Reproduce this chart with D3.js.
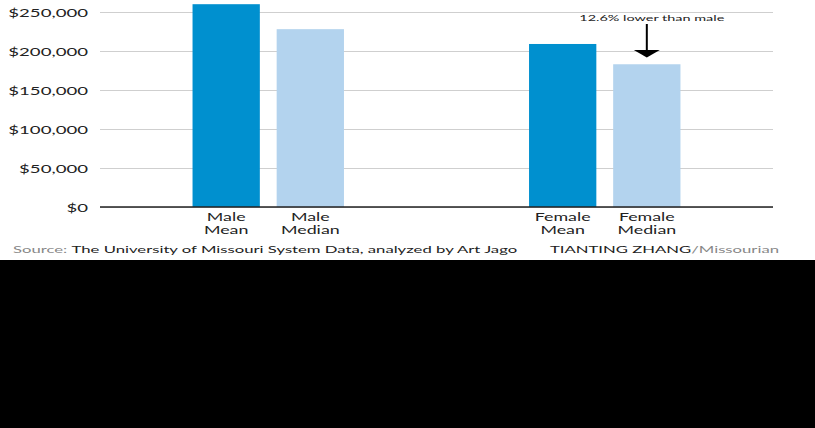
<!DOCTYPE html>
<html><head><meta charset="utf-8">
<script src="https://cdn.jsdelivr.net/npm/d3@7"></script>
<style>
html,body{margin:0;padding:0;background:#fff;}
svg{display:block;font-family:Lato,"Open Sans",sans-serif;}
</style></head>
<body>
<svg id="c" width="815" height="428"></svg>
<script>
const categories = ["Male Mean","Male Median","Female Mean","Female Median"];
const labelLines = [["Male","Mean"],["Male","Median"],["Female","Mean"],["Female","Median"]];
const values = [260000, 228000, 209000, 183000];
const kinds = ["mean","median","mean","median"];
const yTicks = [0, 50000, 100000, 150000, 200000, 250000];
const annotationText = "12.6% lower than male";
const annotationTarget = "Female Median";

(function () {
const svg = d3.select("#c");
const W = 815, H = 428, SX = 1.55;
svg.append("rect").attr("width", W).attr("height", H).attr("fill", "#fff");
svg.append("rect").attr("x", 0).attr("y", 260).attr("width", W).attr("height", H - 260).attr("fill", "#000");

function wtext(px, py, size, anchor, sx) {
  return svg.append("g").attr("transform", `translate(${px},${py}) scale(${sx || SX},1)`)
    .append("text").attr("font-size", size).attr("text-anchor", anchor || "start").attr("fill", "#222");
}

const mLeft = 100, mRight = 773, mTop = 12, base = 207;
const slots = ["s0", categories[0], categories[1], "s1", "s2", categories[2], categories[3], "s3"];
const x = d3.scaleBand().domain(slots).range([mLeft, mRight]).paddingInner(0.2).paddingOuter(0.1);
const y = d3.scaleLinear().domain([0, 250000]).range([base, mTop]);

const fmt = v => "$" + d3.format(",")(v);
const yAxis = d3.axisLeft(y).tickValues(yTicks).tickSize(-(mRight - mLeft)).tickFormat(fmt);
const gy = svg.append("g").attr("transform", `translate(${mLeft},0)`).call(yAxis);
gy.select(".domain").remove();
gy.selectAll(".tick line").attr("stroke", "#cfcfcf").attr("stroke-width", 1);
gy.selectAll(".tick text").remove();
yTicks.forEach(v => wtext(88, y(v) + 4.5, 12, "end").text(fmt(v)));

const colors = {mean: "#0090cf", median: "#b3d3ee"};
svg.append("g").selectAll("rect").data(categories).join("rect")
  .attr("x", d => x(d)).attr("width", x.bandwidth())
  .attr("y", (d, i) => y(values[i])).attr("height", (d, i) => base - y(values[i]))
  .attr("fill", (d, i) => colors[kinds[i]]);

svg.append("line").attr("x1", mLeft).attr("x2", mRight).attr("y1", base).attr("y2", base)
  .attr("stroke", "#222").attr("stroke-width", 1.5);

categories.forEach((c, i) => {
  const cx = x(c) + x.bandwidth() / 2;
  labelLines[i].forEach((ln, j) => wtext(cx, 221 + j * 12.5, 11.5, "middle").text(ln));
});

const ax = x(annotationTarget) + x.bandwidth() / 2;
wtext(ax + 5, 21, 8.5, "middle", 1.7).text(annotationText);
svg.append("line").attr("x1", ax).attr("x2", ax).attr("y1", 24).attr("y2", 51).attr("stroke", "#000").attr("stroke-width", 2);
svg.append("path").attr("d", `M${ax - 13},50 L${ax + 13},50 L${ax},57.5 Z`).attr("fill", "#000");

const f1 = wtext(13, 253, 10.3, "start", 1.62);
f1.append("tspan").attr("fill", "#888").text("Source: ");
f1.append("tspan").attr("fill", "#222").text("The University of Missouri System Data, analyzed by Art Jago");
const f2 = wtext(779, 253, 10.3, "end", 1.62);
f2.append("tspan").attr("fill", "#222").text("TIANTING ZHANG");
f2.append("tspan").attr("fill", "#888").text("/Missourian");
})();
</script>
</body></html>
